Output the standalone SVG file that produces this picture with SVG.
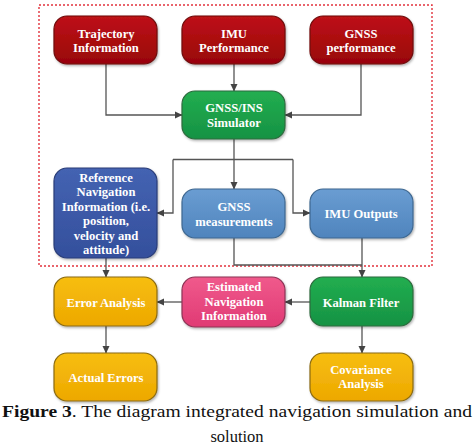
<svg xmlns="http://www.w3.org/2000/svg" width="474" height="445" viewBox="0 0 474 445">
<style>
.n{stroke-width:1.2}
.t{font-family:"Liberation Serif","Times New Roman",Tinos,serif;font-weight:bold;font-size:12.6px;fill:#fff;text-anchor:middle}
.c{fill:none;stroke:#555;stroke-width:1.3}
.cap{font-family:"Liberation Serif","Times New Roman",Tinos,serif;font-size:16.5px;fill:#111}
</style>
<defs>
<marker id="a" markerWidth="8" markerHeight="8" refX="7" refY="4" orient="auto" markerUnits="userSpaceOnUse">
<path d="M0,0.5 L7.5,4 L0,7.5 Z" fill="#444"/>
</marker>
<linearGradient id="gr" x1="0" y1="0" x2="0" y2="1"><stop offset="0" stop-color="#BE1217"/><stop offset="1" stop-color="#980509"/></linearGradient>
<linearGradient id="gg" x1="0" y1="0" x2="0" y2="1"><stop offset="0" stop-color="#22AE50"/><stop offset="1" stop-color="#169243"/></linearGradient>
<linearGradient id="gdb" x1="0" y1="0" x2="0" y2="1"><stop offset="0" stop-color="#4463B2"/><stop offset="1" stop-color="#344F9C"/></linearGradient>
<linearGradient id="glb" x1="0" y1="0" x2="0" y2="1"><stop offset="0" stop-color="#6A9DD2"/><stop offset="1" stop-color="#4F84BD"/></linearGradient>
<linearGradient id="gp" x1="0" y1="0" x2="0" y2="1"><stop offset="0" stop-color="#F05A8C"/><stop offset="1" stop-color="#E03A74"/></linearGradient>
<linearGradient id="gy" x1="0" y1="0" x2="0" y2="1"><stop offset="0" stop-color="#F7BE12"/><stop offset="1" stop-color="#EDA800"/></linearGradient>
<filter id="sh" x="-10%" y="-10%" width="130%" height="130%"><feDropShadow dx="1" dy="1.5" stdDeviation="1" flood-color="#000" flood-opacity="0.3"/></filter>
</defs>
<rect width="474" height="445" fill="#fff"/>
<rect x="39" y="5" width="393" height="261" fill="none" stroke="#E2323C" stroke-width="1.4" stroke-dasharray="2,2"/>

<g id="connectors">
<path class="c" d="M106,64 V115 H182" marker-end="url(#a)"/>
<path class="c" d="M234,64 V91" marker-end="url(#a)"/>
<path class="c" d="M361,64 V115 H285" marker-end="url(#a)"/>
<path class="c" d="M234,139 V189" marker-end="url(#a)"/>
<path class="c" d="M173,159.5 H293"/>
<path class="c" d="M173,159.5 V213 H157" marker-end="url(#a)"/>
<path class="c" d="M293,159.5 V213 H310" marker-end="url(#a)"/>
<path class="c" d="M234,238 V265 H362"/>
<path class="c" d="M362,238 V277" marker-end="url(#a)"/>
<path class="c" d="M106,258 V277" marker-end="url(#a)"/>
<path class="c" d="M310,302 H285" marker-end="url(#a)"/>
<path class="c" d="M182,302 H157" marker-end="url(#a)"/>
<path class="c" d="M106,326 V353" marker-end="url(#a)"/>
<path class="c" d="M362,326 V353" marker-end="url(#a)"/>
</g>

<g id="trajectory">
<rect class="n" x="54" y="16" width="103" height="48" rx="13" fill="url(#gr)" stroke="#6E0B0B" filter="url(#sh)"/>
<text class="t" x="106" y="37.5">Trajectory</text>
<text class="t" x="106" y="51.5">Information</text>
</g>
<g id="imu-performance">
<rect class="n" x="182" y="16" width="103" height="48" rx="13" fill="url(#gr)" stroke="#6E0B0B" filter="url(#sh)"/>
<text class="t" x="234" y="37.5">IMU</text>
<text class="t" x="234" y="51.5">Performance</text>
</g>
<g id="gnss-performance">
<rect class="n" x="310" y="16" width="103" height="48" rx="13" fill="url(#gr)" stroke="#6E0B0B" filter="url(#sh)"/>
<text class="t" x="361" y="37.5">GNSS</text>
<text class="t" x="361" y="51.5">performance</text>
</g>
<g id="simulator">
<rect class="n" x="182" y="91" width="103" height="48" rx="13" fill="url(#gg)" stroke="#2E6A3E" filter="url(#sh)"/>
<text class="t" x="234" y="111.5">GNSS/INS</text>
<text class="t" x="234" y="126.5">Simulator</text>
</g>
<g id="reference-nav">
<rect class="n" x="54" y="168" width="103" height="90" rx="13" fill="url(#gdb)" stroke="#2A3D78" filter="url(#sh)"/>
<text class="t" x="106" y="181.5">Reference</text>
<text class="t" x="106" y="196">Navigation</text>
<text class="t" x="106" y="210.5">Information (i.e.</text>
<text class="t" x="106" y="225">position,</text>
<text class="t" x="106" y="239.5">velocity and</text>
<text class="t" x="106" y="254">attitude)</text>
</g>
<g id="gnss-measurements">
<rect class="n" x="182" y="189" width="103" height="49" rx="13" fill="url(#glb)" stroke="#3E6790" filter="url(#sh)"/>
<text class="t" x="234" y="210.5">GNSS</text>
<text class="t" x="234" y="225.5">measurements</text>
</g>
<g id="imu-outputs">
<rect class="n" x="310" y="189" width="103" height="49" rx="13" fill="url(#glb)" stroke="#3E6790" filter="url(#sh)"/>
<text class="t" x="361" y="217.5">IMU Outputs</text>
</g>
<g id="error-analysis">
<rect class="n" x="54" y="277" width="103" height="49" rx="13" fill="url(#gy)" stroke="#8A6A12" filter="url(#sh)"/>
<text class="t" x="106" y="306.5">Error Analysis</text>
</g>
<g id="estimated-nav">
<rect class="n" x="182" y="277" width="103" height="50" rx="13" fill="url(#gp)" stroke="#8C3455" filter="url(#sh)"/>
<text class="t" x="234" y="291">Estimated</text>
<text class="t" x="234" y="305.5">Navigation</text>
<text class="t" x="234" y="320">Information</text>
</g>
<g id="kalman">
<rect class="n" x="310" y="277" width="103" height="49" rx="13" fill="url(#gg)" stroke="#2E6A3E" filter="url(#sh)"/>
<text class="t" x="361" y="306.5">Kalman Filter</text>
</g>
<g id="actual-errors">
<rect class="n" x="54" y="353" width="103" height="48" rx="13" fill="url(#gy)" stroke="#8A6A12" filter="url(#sh)"/>
<text class="t" x="106" y="381.5">Actual Errors</text>
</g>
<g id="covariance">
<rect class="n" x="310" y="353" width="103" height="48" rx="13" fill="url(#gy)" stroke="#8A6A12" filter="url(#sh)"/>
<text class="t" x="361" y="373.5">Covariance</text>
<text class="t" x="361" y="387.5">Analysis</text>
</g>

<text class="cap" x="2" y="417" textLength="470" lengthAdjust="spacingAndGlyphs"><tspan font-weight="bold">Figure 3</tspan>. The diagram integrated navigation simulation and</text>
<text class="cap" x="237" y="442" text-anchor="middle">solution</text>
</svg>
